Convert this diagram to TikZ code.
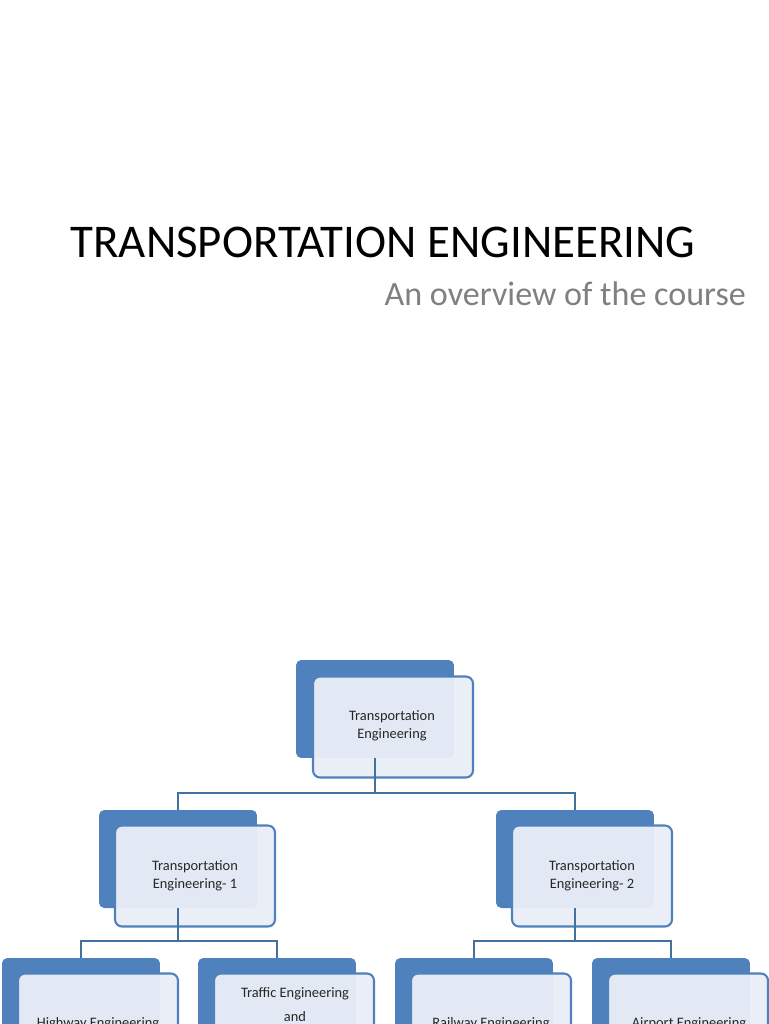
\documentclass[tikz,border=0pt]{standalone}
\usepackage{fontspec}
\setmainfont{Carlito}
\begin{document}
\begin{tikzpicture}[x=0.02cm, y=-0.02cm,
    back/.style={fill=boxblue, rounded corners=3pt, minimum width=3.16cm, minimum height=1.96cm, inner sep=0pt},
    front/.style={draw=boxblue, line width=1.2pt, fill=boxpale, fill opacity=0.96, text opacity=1, rounded corners=4pt, minimum width=3.2cm, minimum height=2.02cm, inner sep=0pt},
    lbl/.style={font=\fontsize{8.2}{10}\selectfont, align=center, text=black!85},
    link/.style={draw=lineblue, line width=1.2pt}]
    % 颜色
    \definecolor{boxblue}{RGB}{79, 129, 189}
    \definecolor{boxpale}{RGB}{233, 238, 247}
    \definecolor{lineblue}{RGB}{65, 113, 156}
    \useasboundingbox (0,0) rectangle (768,1024);

    % 标题
    \node (title) at (383,242) {\fontsize{26.7}{32}\selectfont TRANSPORTATION ENGINEERING};
    \node[anchor=east, text=gray] (subtitle) at (752,294) {\fontsize{19.4}{22}\selectfont An overview of the course};

    % 顶层
    \node[back] (topb) at (375,709) {};
    \node[front] (topf) at (393,727) {};
    \node[lbl] (topt) at (392,726) {Transportation\\Engineering};

    % 第二层
    \node[back] (leftb) at (178,859) {};
    \node[front] (leftf) at (195,876) {};
    \node[lbl] (leftt) at (195,876) {Transportation\\Engineering- 1};
    \node[back] (rightb) at (575,859) {};
    \node[front] (rightf) at (592,876) {};
    \node[lbl] (rightt) at (592,876) {Transportation\\Engineering- 2};

    % 第三层
    \foreach \x/\n in {81/hw, 277/tr, 474/rw, 671/ap} {
        \node[back] (\n b) at (\x,1007) {};
        \node[front] (\n f) at (\x+17,1024) {};
    }
    \node[lbl, anchor=north] (hwt) at (98,1011) {Highway Engineering};
    \node[lbl, anchor=north, font=\fontsize{8.2}{14}\selectfont] (trt) at (295,981) {Traffic Engineering\\and};
    \node[lbl, anchor=north] (rwt) at (491,1011) {Railway Engineering};
    \node[lbl, anchor=north] (apt) at (689,1011) {Airport Engineering};

    % 连线
    \draw[link] (topb.south) -- ++(0,35) -| (leftb.north);
    \draw[link] (topb.south) ++(0,35) -| (rightb.north);
    \draw[link] (leftb.south) -- ++(0,33) -| (hwb.north);
    \draw[link] (leftb.south) ++(0,33) -| (trb.north);
    \draw[link] (rightb.south) -- ++(0,33) -| (rwb.north);
    \draw[link] (rightb.south) ++(0,33) -| (apb.north);
\end{tikzpicture}
\end{document}
